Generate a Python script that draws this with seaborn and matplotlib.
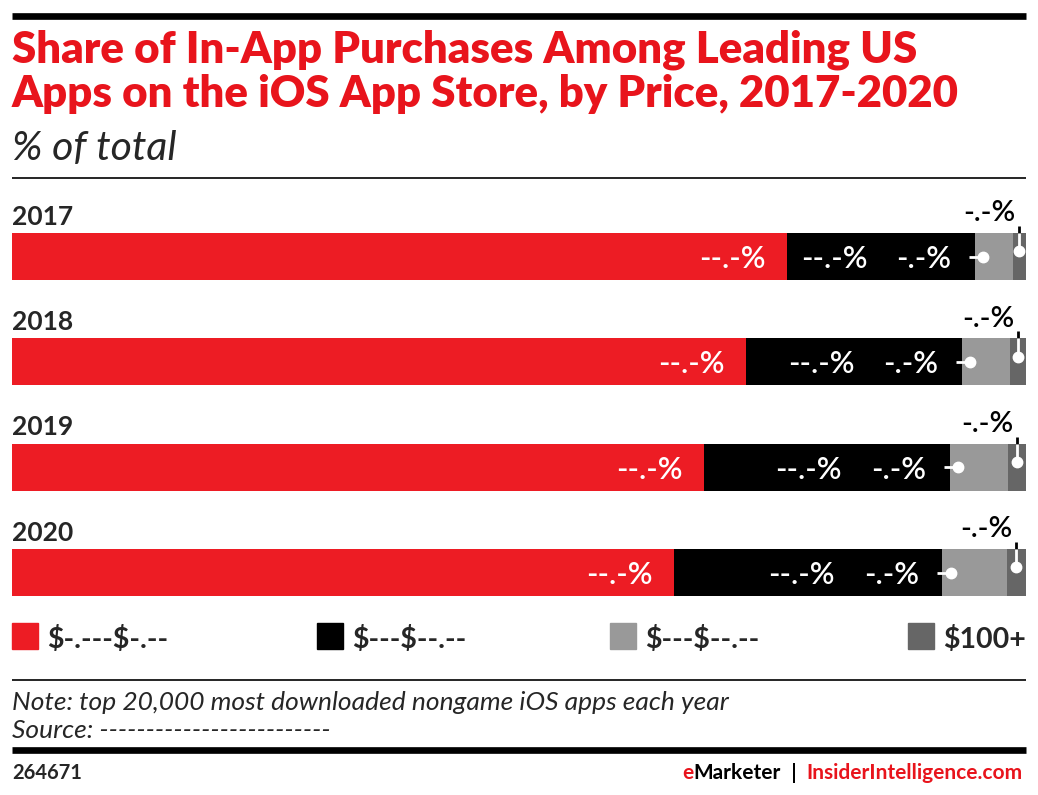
import numpy as np
import pandas as pd
import matplotlib
matplotlib.use("Agg")
import matplotlib.pyplot as plt
from matplotlib.patches import Rectangle
from matplotlib.lines import Line2D
import seaborn as sns

# data (% of total)
years = ["2017", "2018", "2019", "2020"]
price_bands = [r"\$-.---\$-.--", r"\$---\$--.--", r"\$---\$--.--", r"\$100+"]
low_share = [76.5, 72.4, 68.3, 65.3]
mid_share = [18.5, 21.3, 24.2, 26.5]
high_share = [3.8, 4.8, 5.8, 6.4]
top_share = [1.2, 1.5, 1.7, 1.8]
bar_labels = ["--.-%", "--.-%", "-.-%", "-.-%"]

colors = ["#ED1C24", "#000000", "#999999", "#666666"]
RED = "#E8141C"

sns.set_style("white")
plt.rcParams["font.family"] = ["Lato", "DejaVu Sans"]

W, H = 1038, 795
fig = plt.figure(figsize=(W / 100, H / 100), dpi=100)


def fx(x):
    return x / W


def fy(y):
    return 1 - y / H


def hline(y, lw):
    fig.add_artist(Line2D([fx(12), fx(1025.5)], [fy(y), fy(y)], color="black",
                          lw=lw, solid_capstyle="butt"))


# header
hline(15.7, 4.8)
fig.text(fx(12), fy(63), "Share of In-App Purchases Among Leading US",
         color=RED, fontsize=31.5, fontweight="heavy", va="baseline")
fig.text(fx(12), fy(107), "Apps on the iOS App Store, by Price, 2017-2020",
         color=RED, fontsize=31.5, fontweight="heavy", va="baseline")
fig.text(fx(12), fy(160), "% of total", fontsize=29.5, fontstyle="italic",
         va="baseline")
hline(177.7, 1.2)

# bars: axes spans the bar area, one category every ~105 px
top_px, step = 204.0, 105.3
ax = fig.add_axes([fx(12.3), fy(top_px + 4 * step), fx(1025.5) - fx(12.3), 4 * step / H])

df = pd.DataFrame({"year": years, "low": low_share, "mid": mid_share,
                   "high": high_share, "top": top_share})
cols = ["low", "mid", "high", "top"]
cum = df[cols].cumsum(axis=1)
for col, c in reversed(list(zip(cols, colors))):
    sns.barplot(x=cum[col], y=df["year"], order=years, orient="h", color=c,
                saturation=1, width=0.446, ax=ax, linewidth=0)

ax.set_xlim(0, 100)
ax.set_ylim(3.5, -0.5)
ax.axis("off")

lab_fs = 22
for i, y in enumerate(years):
    red_end = cum.loc[i, "low"]
    blk_end = cum.loc[i, "mid"]
    gry_end = cum.loc[i, "high"]
    ax.text(0, i - 0.38, y, fontsize=19, fontweight="bold", va="center", ha="left")
    ax.text(red_end - 2.1, i, bar_labels[0], color="white", fontsize=lab_fs,
            fontweight="semibold", ha="right", va="center_baseline")
    ax.text(blk_end - 10.6, i, bar_labels[1], color="white", fontsize=lab_fs,
            fontweight="semibold", ha="right", va="center_baseline")
    # callout for the light gray segment
    ax.text(blk_end - 2.3, i, bar_labels[2], color="white", fontsize=lab_fs,
            fontweight="semibold", ha="right", va="center_baseline")
    ax.plot([blk_end - 0.55, blk_end + 0.85], [i, i], color="white", lw=2,
            solid_capstyle="butt")
    ax.plot(blk_end + 0.85, i, "o", color="white", ms=7.5)
    # callout for the dark gray segment
    dx = gry_end + top_share[i] / 2
    ax.plot([dx, dx], [i - 0.29, i - 0.223], color="black", lw=2, solid_capstyle="butt")
    ax.plot([dx, dx], [i - 0.223, i - 0.05], color="white", lw=2, solid_capstyle="butt")
    ax.plot(dx, i - 0.05, "o", color="white", ms=7.5)
    ax.text(dx - 0.35, i - 0.435, bar_labels[3], color="black", fontsize=21,
            fontweight="semibold", ha="right", va="center_baseline")

# legend
for xs, name, c in zip([12.3, 316.7, 610, 908], price_bands, colors):
    fig.add_artist(Rectangle((fx(xs), fy(649.3)), 26 / W, 26 / H, color=c,
                             transform=fig.transFigure))
    fig.text(fx(xs + 35), fy(637), name, fontsize=20.5, fontweight="bold",
             va="center_baseline")

# notes and footer
hline(680, 1.2)
fig.text(fx(12), fy(700), "Note: top 20,000 most downloaded nongame iOS apps each year",
         fontsize=19, fontstyle="italic", va="center_baseline")
fig.text(fx(12), fy(728), "Source: -------------------------",
         fontsize=19, fontstyle="italic", va="center_baseline")
hline(750, 4.8)
fig.text(fx(12), fy(771), "264671", fontsize=14.5, fontweight="bold", va="center_baseline")

# right footer, laid out right to left
renderer = fig.canvas.get_renderer()
x_right = 1023
for txt, c in [("InsiderIntelligence.com", RED), ("  |  ", "black"),
               ("Marketer", "black"), ("e", RED)]:
    t = fig.text(fx(x_right), fy(771), txt, color=c, fontsize=15, fontweight="bold",
                 ha="right", va="center_baseline")
    bb = t.get_window_extent(renderer)
    x_right -= bb.width

fig.savefig("out.png", dpi=100)
